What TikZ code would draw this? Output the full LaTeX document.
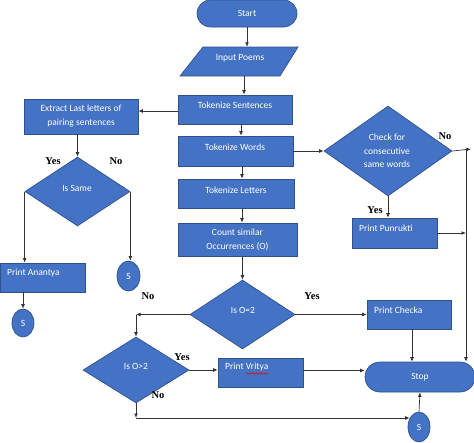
\documentclass[tikz,border=0pt]{standalone}
\usepackage{fontspec}
\setmainfont{Carlito}
\newfontfamily\lblfont{Liberation Serif}
\usetikzlibrary{arrows.meta,shapes.geometric,calc,decorations.pathmorphing}
\definecolor{fillblue}{HTML}{4472C4}
\definecolor{edgeblue}{HTML}{2F528F}
\tikzset{
  blk/.style={draw=edgeblue, fill=fillblue, line width=0.7pt, inner sep=0pt, text=white,
    font=\fontsize{9.5}{14}\selectfont, align=center},
  boxs/.style={blk, rectangle},
  dia/.style={blk, diamond},
  oval/.style={blk, ellipse},
  pill/.style={blk, rectangle, rounded corners=#1},
  txt/.style={text=white, font=\fontsize{9.5}{13.5}\selectfont, align=center, inner sep=0pt},
  ltxt/.style={txt, anchor=west},
  lbl/.style={font=\lblfont\bfseries\fontsize{10.5}{12}\selectfont, inner sep=0pt},
  conn/.style={draw=black!80, line width=0.7pt, -{Latex[length=4.5pt,width=3.8pt]}},
  plain/.style={draw=black!80, line width=0.7pt}
}
\begin{document}
\begin{tikzpicture}[x=1pt,y=-1pt]
\useasboundingbox (0,0) rectangle (474,442);
% start / stop
\node[pill=13.5pt, minimum width=100, minimum height=27] (start) at (247,13.5) {Start};
\node[pill=15pt, minimum width=110, minimum height=30] (stop) at (420,377) {Stop};
% input parallelogram
\fill[fillblue, draw=edgeblue, line width=0.7pt] (203,47) -- (298,47) -- (280,76) -- (180,76) -- cycle;
\node[txt, minimum width=100, minimum height=29] (ip) at (239,61.5) {};
\node[txt] (ipt) at (240,58) {Input Poems};
% process column
\node[boxs, minimum width=114, minimum height=29] (ts) at (235,109.5) {};
\node[txt] (tst) at (235,105) {Tokenize Sentences};
\node[boxs, minimum width=115, minimum height=30] (tw) at (235.5,151) {};
\node[txt] (twt) at (235,147) {Tokenize Words};
\node[boxs, minimum width=116, minimum height=29] (tl) at (236,193.5) {};
\node[txt] (tlt) at (236,190) {Tokenize Letters};
\node[boxs, minimum width=119, minimum height=33] (cnt) at (237.5,239.5) {Count similar\\Occurrences (O)};
% left branch
\node[boxs, minimum width=114, minimum height=35] (ext) at (81,116.5) {Extract Last letters of\\pairing sentences};
\node[dia, minimum width=105, minimum height=69] (same) at (77.5,191.5) {};
\node[txt] (samet) at (77,188) {Is Same};
\node[boxs, minimum width=85, minimum height=29] (ana) at (42.5,277.5) {};
\node[ltxt] (anat) at (7,273) {Print Anantya};
\node[oval, minimum width=22, minimum height=28] (s1) at (23,323) {S};
\node[oval, minimum width=23, minimum height=30] (s2) at (128.5,276) {S};
% right branch
\node[dia, minimum width=128, minimum height=90] (chkd) at (388,151) {};
\node[txt] (chkdt) at (387,151) {Check for\\consecutive\\same words};
\node[boxs, minimum width=85, minimum height=30] (pun) at (394.5,233) {};
\node[ltxt] (punt) at (359,228) {Print Punrukti};
% lower part
\node[dia, minimum width=105, minimum height=69] (o2) at (242.5,314.5) {};
\node[txt] (o2t) at (243,310) {Is O=2};
\node[boxs, minimum width=84, minimum height=29] (chk) at (409,314.5) {};
\node[ltxt] (chkt) at (374,310) {Print Checka};
\node[dia, minimum width=106, minimum height=66] (o3) at (136,370) {};
\node[txt] (o3t) at (136,366) {Is O>2};
\node[boxs, minimum width=85, minimum height=29] (vri) at (260.5,372.5) {};
\node[ltxt] (vrit) at (225,367) {Print Vritya};
\draw[red, line width=0.5pt, decorate, decoration={snake, amplitude=0.8pt, segment length=3pt}]
  ([xshift=21pt,yshift=-6.5pt]vrit.west) -- ([yshift=-6.5pt]vrit.east);
\node[oval, minimum width=22, minimum height=30] (s3) at (419,427) {S};
% helper coordinates
\coordinate (nr) at (471,151);
\coordinate (vt) at (466,151);
\coordinate (c1) at (136,314.5);
\coordinate (c2) at (136,418);
% connectors: main column
\draw[conn] (start.south) -- (start.south |- ip.north);
\draw[conn] ([xshift=5pt]ip.south) -- ([xshift=5pt]ip.south |- ts.north);
\draw[conn] ([xshift=6pt]ts.south) -- ([xshift=6pt]ts.south |- tw.north);
\draw[conn] ([xshift=6.5pt]tw.south) -- ([xshift=6.5pt]tw.south |- tl.north);
\draw[conn] ([xshift=6pt]tl.south) -- ([xshift=6pt]tl.south |- cnt.north);
\draw[conn] (cnt.south -| o2.north) -- (o2.north);
% left branch
\draw[conn] ([yshift=-1.5pt]ts.west) -- ([yshift=-1.5pt]ts.west -| ext.east);
\draw[conn] (ext.south -| same.north) -- (same.north);
\draw[conn] (same.west) -- (same.west |- ana.north);
\draw[conn] (same.east) -- (same.east |- s2.north);
\draw[conn] (s1.north |- ana.south) -- (s1.north);
% right branch
\draw[conn] (tw.east) -- (chkd.west);
\draw[conn] (chkd.east) -- ([yshift=2pt]nr);
\draw[conn] ([yshift=2pt]vt) -- (vt |- stop.north);
\draw[conn] (chkd.south) -- (chkd.south |- pun.north);
\draw[conn] (pun.east) -- (vt |- pun.east);
% lower part
\draw[conn] (o2.west) -- (c1);
\draw[conn] (c1) -- (o3.north);
\draw[conn] (o2.east) -- (o2.east -| chk.west);
\draw[conn] ([xshift=3pt]chk.south) -- ([xshift=3pt]chk.south |- stop.north);
\draw[conn] (o3.east) -- (o3.east -| vri.west);
\draw[conn] ([yshift=2pt]vri.east) -- ([yshift=2pt]vri.east -| stop.west);
\draw[conn] (o3.south) -- (c2);
\draw[conn] (c2) -- ([xshift=2pt]c2 -| s3.west);
\draw[conn] (s3.north) -- (stop.south);
% labels
\node[lbl] (l1) at (53,161) {Yes};
\node[lbl] (l2) at (116,161) {No};
\node[lbl] (l3) at (445,136) {No};
\node[lbl] (l4) at (375,210) {Yes};
\node[lbl] (l5) at (148,296) {No};
\node[lbl] (l6) at (312,296) {Yes};
\node[lbl] (l7) at (182,357) {Yes};
\node[lbl] (l8) at (158,395) {No};
\end{tikzpicture}
\end{document}
